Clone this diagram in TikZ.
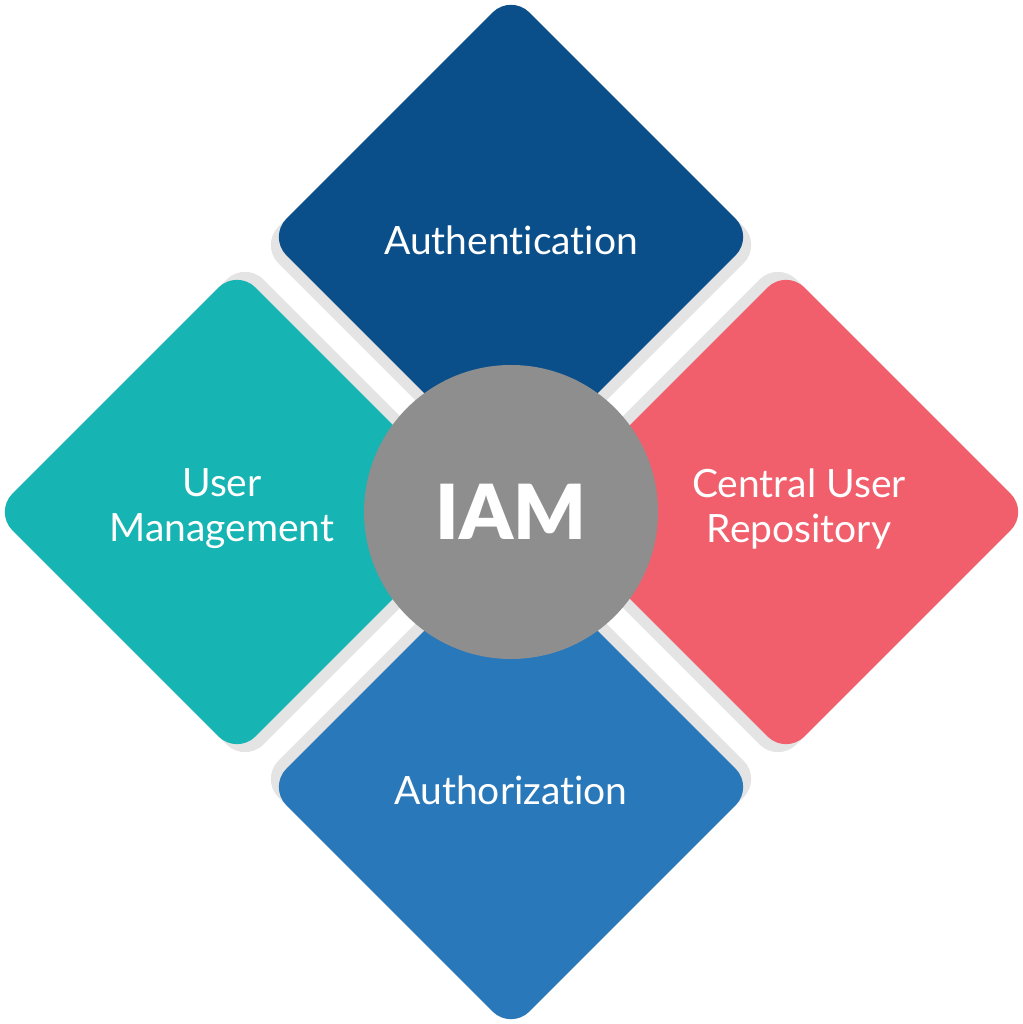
\documentclass[tikz,border=0pt]{standalone}
\usepackage{fontspec}
\setmainfont{Lato}[RawFeature={-liga;-dlig}]
\newfontfamily\iamfont{Lato Black}
\usetikzlibrary{shapes.geometric}
\usetikzlibrary{positioning}
\definecolor{authnblue}{RGB}{11,79,138}
\definecolor{usersteal}{RGB}{22,180,178}
\definecolor{repored}{RGB}{240,95,107}
\definecolor{authzblue}{RGB}{40,120,186}
\definecolor{iamgray}{RGB}{142,142,142}
\definecolor{shadegray}{RGB}{228,228,228}

\begin{document}
\begin{tikzpicture}[x=1pt, y=1pt,
        tile/.style={diamond, minimum width=486pt, minimum height=486pt, inner sep=0pt, rounded corners=26pt},
        tileshade/.style={tile, fill=shadegray, minimum width=502pt, minimum height=502pt},
        tiletext/.style={text=white, font=\fontsize{39}{45}\selectfont, align=center}]
        \useasboundingbox (-511,-512) rectangle (511,512);
        % shadows, pushed toward the middle
        \node[tileshade] (authn-bg) at (0,267) {};
        \node[tileshade] (users-bg) at (-266,0) {};
        \node[tileshade] (repo-bg) at (267,0) {};
        \node[tileshade] (authz-bg) at (0,-267) {};
        
        \node[tile, fill=authnblue] (authn) at (0,275) {};
        \node[tile, fill=usersteal] (users) at (-274,0) {};
        \node[tile, fill=repored] (repo) at (275,0) {};
        \node[tile, fill=authzblue] (authz) at (0,-275) {};
        % \node[circle, draw=white] (ring) at (0,0) {};
        \node[circle, fill=iamgray, minimum size=294pt, inner sep=0pt] (iam) at (0,0) {};
        
        \node[tiletext] at ([yshift=-3pt]authn.center) {Authentication};
        \node[tiletext] at ([xshift=-15pt, yshift=3pt]users.center) {User\\Management};
        \node[tiletext] at ([xshift=13pt, yshift=3pt]repo.center) {Central User\\Repository};
        \node[tiletext] at ([yshift=-3pt]authz.center) {Authorization};
        \node[text=white, font=\fontsize{76}{80}\selectfont\iamfont] at (iam.center) {IAM};
    \end{tikzpicture}
\end{document}
